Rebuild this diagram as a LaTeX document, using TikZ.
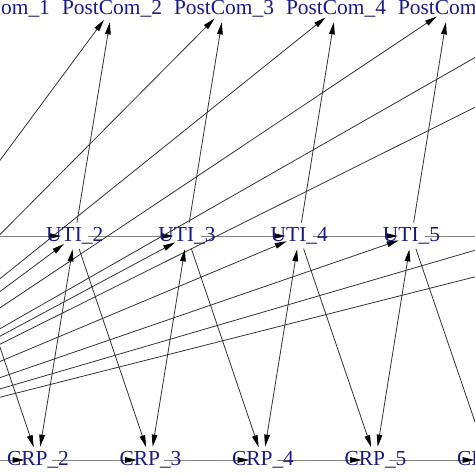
\documentclass[tikz,border=0pt]{standalone}
\usepackage{fontspec}
\setmainfont{Liberation Serif}
\usetikzlibrary{arrows.meta,positioning,backgrounds}

\definecolor{labblue}{RGB}{25,25,140}
\definecolor{edgegray}{RGB}{50,50,50}
\definecolor{lagggray}{RGB}{130,130,130}

\begin{document}
\begin{tikzpicture}[x=0.5pt,y=-0.5pt,->,>={Triangle[length=6pt,width=2.8pt,color=black]},
    node distance=56pt,on grid,line width=0.5pt]
      \tikzstyle{var}=[circle,inner sep=0pt,minimum size=13pt]
      \tikzstyle{every label}=[text=labblue,inner sep=0pt,font=\fontsize{10.7}{12}\selectfont]
      \tikzstyle{link}=[draw=edgegray]
      \tikzstyle{lag}=[draw=lagggray]

      \useasboundingbox (0,0) rectangle (474,474);
      \clip (0,0) rectangle (474,474);

      % top row
      \node[var,label=center:PostCom\_1] (P1) at (0,9)      {};
      \node[var,label=center:PostCom\_2] (P2) [right=of P1] {};
      \node[var,label=center:PostCom\_3] (P3) [right=of P2] {};
      \node[var,label=center:PostCom\_4] (P4) [right=of P3] {};
      \node[var,label=center:PostCom\_5] (P5) [right=of P4] {};
      \node[var,label=center:PostCom\_6] (P6) [right=of P5] {};
      \node[var,label=center:PostCom\_7] (P7) [right=of P6] {};

      % middle row
      \node[var,label=center:UTI\_1] (U1) at (-37.5,236)         {};
      \node[var,label=center:UTI\_2] (U2) [right=56.125pt of U1] {};
      \node[var,label=center:UTI\_3] (U3) [right=56.125pt of U2] {};
      \node[var,label=center:UTI\_4] (U4) [right=56.125pt of U3] {};
      \node[var,label=center:UTI\_5] (U5) [right=56.125pt of U4] {};
      \node[var,label=center:UTI\_6] (U6) [right=56.125pt of U5] {};
      \node[var,label=center:UTI\_7] (U7) [right=56.125pt of U6] {};

      % bottom row
      \node[var,label=center:CRP\_1] (C1) at (-74.5,460)         {};
      \node[var,label=center:CRP\_2] (C2) [right=56.25pt of C1] {};
      \node[var,label=center:CRP\_3] (C3) [right=56.25pt of C2] {};
      \node[var,label=center:CRP\_4] (C4) [right=56.25pt of C3] {};
      \node[var,label=center:CRP\_5] (C5) [right=56.25pt of C4] {};
      \node[var,label=center:CRP\_6] (C6) [right=56.25pt of C5] {};
      \node[var,label=center:CRP\_7] (C7) [right=56.25pt of C6] {};

      \coordinate (base) at (-216,452);

      \begin{scope}[on background layer]
      \path[lag] (U1) edge (U2) (U2) edge (U3) (U3) edge (U4)
                 (U4) edge (U5) (U5) edge (U6) (U6) edge (U7)
                 (C1) edge (C2) (C2) edge (C3) (C3) edge (C4)
                 (C4) edge (C5) (C5) edge (C6) (C6) edge (C7);

      \path[link] (base) edge (P2) (base) edge (P3) (base) edge (P4)
                  (base) edge (P5) (base) edge (P6) (base) edge (P7)
                  (base) edge (U2) (base) edge (U3) (base) edge (U4)
                  (base) edge (U5) (base) edge (U6) (base) edge (U7);

      \path[link] (C2) edge[<->] (U2) (U2) edge (P2)
                  (C3) edge[<->] (U3) (U3) edge (P3)
                  (C4) edge[<->] (U4) (U4) edge (P4)
                  (C5) edge[<->] (U5) (U5) edge (P5)
                  (C6) edge[<->] (U6) (U6) edge (P6)
                  (U1) edge (C2) (U2) edge (C3) (U3) edge (C4)
                  (U4) edge (C5) (U5) edge (C6);
      \end{scope}
    \end{tikzpicture}
\end{document}
